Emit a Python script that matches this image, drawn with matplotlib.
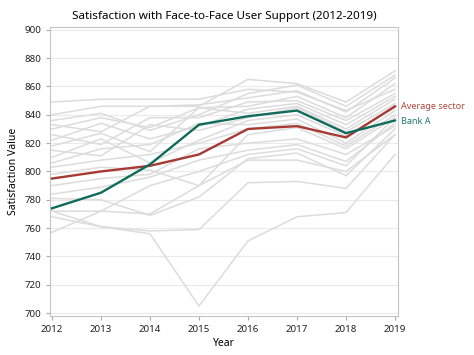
import numpy as np
import matplotlib.pyplot as plt

plt.rcParams['font.family'] = ['Noto Sans', 'DejaVu Sans']

years = [2012, 2013, 2014, 2015, 2016, 2017, 2018, 2019]

avg_sector = [795, 800, 804, 812, 830, 832, 824, 846]
bank_a = [774, 785, 805, 833, 839, 843, 827, 836]

# other banks (grey background lines)
others = [
    [849, 851, 851, 851, 858, 856, 843, 858],
    [840, 846, 846, 846, 865, 862, 849, 871],
    [836, 841, 829, 840, 855, 861, 846, 868],
    [833, 828, 846, 847, 852, 857, 842, 866],
    [830, 838, 831, 845, 846, 853, 838, 862],
    [826, 819, 838, 838, 849, 850, 836, 855],
    [822, 834, 823, 832, 844, 848, 833, 853],
    [818, 827, 814, 845, 841, 846, 830, 851],
    [815, 811, 833, 829, 838, 845, 828, 848],
    [810, 823, 806, 822, 836, 840, 825, 845],
    [806, 816, 819, 834, 833, 837, 820, 843],
    [803, 808, 812, 820, 830, 834, 818, 840],
    [798, 803, 801, 790, 826, 831, 816, 838],
    [790, 795, 798, 816, 820, 823, 812, 832],
    [784, 789, 796, 808, 815, 819, 807, 834],
    [781, 780, 769, 782, 809, 813, 797, 830],
    [772, 772, 770, 790, 808, 808, 800, 826],
    [768, 761, 758, 759, 792, 793, 788, 826],
    [772, 761, 756, 705, 751, 768, 771, 812],
    [757, 772, 790, 800, 812, 816, 804, 838],
]

fig = plt.figure(figsize=(4.74, 3.55), dpi=100)
ax = fig.add_axes([0.1055, 0.11, 0.734, 0.814])

for row in others:
    ax.plot(years, row, color='#dcdcdc', lw=1.1, zorder=1)

ax.plot(years, avg_sector, color='#a63a32', lw=1.7, zorder=3)
ax.plot(years, bank_a, color='#0f6b5c', lw=1.7, zorder=4)

ax.text(2019.12, avg_sector[-1], 'Average sector', color='#b0463c', fontsize=6.5,
        va='center', ha='left', clip_on=False)
ax.text(2019.12, bank_a[-1] - 1, 'Bank A', color='#1f7a6c', fontsize=6.5,
        va='center', ha='left', clip_on=False)

ax.set_xlim(2011.96, 2019.06)
ax.set_ylim(698, 902)
ax.set_xticks(years)
ax.set_yticks(range(700, 901, 20))
ax.tick_params(labelsize=7, color='#aaaaaa', length=3, labelcolor='#222222')
ax.grid(axis='y', color='#eaeaea', lw=0.8)
ax.set_axisbelow(True)
for s in ax.spines.values():
    s.set_color('#c4c4c4')

ax.set_title('Satisfaction with Face-to-Face User Support (2012-2019)',
             fontsize=8.4, pad=6, fontweight='medium')
ax.set_xlabel('Year', fontsize=7.5, labelpad=3)
ax.set_ylabel('Satisfaction Value', fontsize=7.5, labelpad=4)

fig.savefig('out.png', dpi=100)
